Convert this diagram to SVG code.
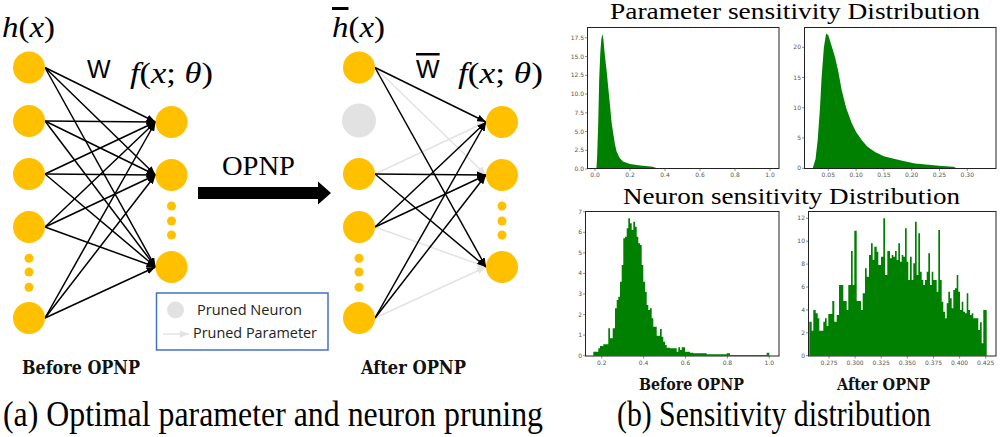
<svg xmlns="http://www.w3.org/2000/svg" width="1000" height="437" viewBox="0 0 1000 437">
<style>
.node{fill:#FFC000}
.pruned{fill:#E2E2E2}
.dot{fill:#FFC000}
.w{stroke:#000;stroke-width:1.5;fill:none;marker-end:url(#ah)}
.g{stroke:#E3E3E3;stroke-width:1.5;fill:none;marker-end:url(#ahg)}
.math{font-family:"Liberation Serif","Times New Roman",serif;font-size:30px;fill:#000}
.it{font-style:italic}
.wlab{font-family:"Liberation Sans",Arial,sans-serif;font-size:25px;fill:#000}
.bold{font-family:"DejaVu Serif",serif;font-weight:bold;fill:#111}
.title{font-family:"Liberation Serif","Times New Roman",serif;font-size:24px;fill:#000}
.cap{font-family:"Liberation Serif","Times New Roman",serif;font-size:35px;fill:#000}
.leg{font-family:"Open Sans","Liberation Sans",sans-serif;font-size:14px;fill:#222}
.frame{fill:none;stroke:#222;stroke-width:1}
.hist{fill:#008000}
.tk{font-family:"DejaVu Sans",sans-serif;font-size:6px;fill:#555}
.tl{stroke:#444;stroke-width:0.6}
</style>
<defs>
<marker id="ah" viewBox="0 0 9 7" refX="9" refY="3.5" markerWidth="9" markerHeight="7" markerUnits="userSpaceOnUse" orient="auto"><path d="M0,0 L9,3.5 L0,7 z" fill="#000"/></marker>
<marker id="ahg" viewBox="0 0 9 7" refX="9" refY="3.5" markerWidth="9" markerHeight="7" markerUnits="userSpaceOnUse" orient="auto"><path d="M0,0 L9,3.5 L0,7 z" fill="#E3E3E3"/></marker>
</defs>

<!-- ===== Left network ===== -->
<text class="math" x="2" y="37" textLength="53" lengthAdjust="spacingAndGlyphs"><tspan class="it">h</tspan>(<tspan class="it">x</tspan>)</text>
<text class="wlab" x="87" y="78">W</text>
<text class="math" x="130" y="83" textLength="83" lengthAdjust="spacingAndGlyphs"><tspan class="it">f</tspan>(<tspan class="it">x</tspan>; <tspan class="it">θ</tspan>)</text>

<g id="connectors-left">
<line class="w" x1="45" y1="67.5" x2="155.5" y2="122"/>
<line class="w" x1="45" y1="67.5" x2="155.5" y2="175"/>
<line class="w" x1="45" y1="67.5" x2="155.5" y2="267"/>
<line class="w" x1="45" y1="121" x2="155.5" y2="122"/>
<line class="w" x1="45" y1="121" x2="155.5" y2="175"/>
<line class="w" x1="45" y1="121" x2="155.5" y2="267"/>
<line class="w" x1="45" y1="174" x2="155.5" y2="122"/>
<line class="w" x1="45" y1="174" x2="155.5" y2="175"/>
<line class="w" x1="45" y1="174" x2="155.5" y2="267"/>
<line class="w" x1="45" y1="227" x2="155.5" y2="122"/>
<line class="w" x1="45" y1="227" x2="155.5" y2="175"/>
<line class="w" x1="45" y1="227" x2="155.5" y2="267"/>
<line class="w" x1="45" y1="318" x2="155.5" y2="122"/>
<line class="w" x1="45" y1="318" x2="155.5" y2="175"/>
<line class="w" x1="45" y1="318" x2="155.5" y2="267"/>
</g>

<g id="L-in1"><circle class="node" cx="29" cy="67.5" r="16"/></g>
<g id="L-in2"><circle class="node" cx="29" cy="121" r="16"/></g>
<g id="L-in3"><circle class="node" cx="29" cy="174" r="16"/></g>
<g id="L-in4"><circle class="node" cx="29" cy="227" r="16"/></g>
<g id="L-dots"><circle class="dot" cx="29" cy="258.3" r="4.5"/><circle class="dot" cx="29" cy="272" r="4.5"/><circle class="dot" cx="29" cy="287.3" r="4.5"/></g>
<g id="L-in5"><circle class="node" cx="29" cy="318" r="16"/></g>
<g id="L-out1"><circle class="node" cx="171.5" cy="122" r="16"/></g>
<g id="L-out2"><circle class="node" cx="171.5" cy="175" r="16"/></g>
<g id="L-outdots"><circle class="dot" cx="171.5" cy="206" r="4.5"/><circle class="dot" cx="171.5" cy="221" r="4.5"/><circle class="dot" cx="171.5" cy="235" r="4.5"/></g>
<g id="L-out3"><circle class="node" cx="171.5" cy="267" r="16"/></g>

<text class="bold" x="22" y="374" font-size="19" textLength="118" lengthAdjust="spacingAndGlyphs">Before OPNP</text>

<!-- OPNP arrow -->
<g id="opnp-arrow">
<text x="222" y="175" font-family="Liberation Serif, Times New Roman, serif" font-size="27" textLength="73" lengthAdjust="spacingAndGlyphs">OPNP</text>
<polygon points="198,187 318,187 318,181.5 331,193 318,204.5 318,199 198,199" fill="#000"/>
</g>

<!-- Legend -->
<g id="legend">
<rect x="156.5" y="293" width="171.5" height="57" fill="#fff" stroke="#4472C4" stroke-width="1.5"/>
<circle cx="175.5" cy="310" r="8.5" fill="#E2E2E2"/>
<text class="leg" x="197" y="315" textLength="105" lengthAdjust="spacingAndGlyphs">Pruned Neuron</text>
<line x1="163" y1="334" x2="189" y2="334" class="g"/>
<text class="leg" x="193" y="338" textLength="124" lengthAdjust="spacingAndGlyphs">Pruned Parameter</text>
</g>

<!-- ===== Right network ===== -->
<text class="math" x="332" y="37" textLength="53" lengthAdjust="spacingAndGlyphs"><tspan class="it" text-decoration="overline">h</tspan>(<tspan class="it">x</tspan>)</text>
<text class="wlab" x="416" y="78" text-decoration="overline">W</text>
<text class="math" x="458" y="83" textLength="85" lengthAdjust="spacingAndGlyphs"><tspan class="it">f</tspan>(<tspan class="it">x</tspan>; <tspan class="it">θ</tspan>)</text>

<g id="connectors-right">
<line class="g" x1="375" y1="67.5" x2="486" y2="175"/>
<line class="g" x1="375" y1="174" x2="486" y2="122"/>
<line class="g" x1="375" y1="227" x2="486" y2="267"/>
<line class="g" x1="375" y1="318" x2="486" y2="267"/>
<line class="w" x1="375" y1="67.5" x2="486" y2="122"/>
<line class="w" x1="375" y1="67.5" x2="486" y2="267"/>
<line class="w" x1="375" y1="174" x2="486" y2="175"/>
<line class="w" x1="375" y1="174" x2="486" y2="267"/>
<line class="w" x1="375" y1="227" x2="486" y2="122"/>
<line class="w" x1="375" y1="227" x2="486" y2="175"/>
<line class="w" x1="375" y1="318" x2="486" y2="122"/>
<line class="w" x1="375" y1="318" x2="486" y2="175"/>
</g>

<g id="R-in1"><circle class="node" cx="359" cy="67.5" r="16"/></g>
<g id="R-in2-pruned"><circle class="pruned" cx="359" cy="120.5" r="17"/></g>
<g id="R-in3"><circle class="node" cx="359" cy="174" r="16"/></g>
<g id="R-in4"><circle class="node" cx="359" cy="227" r="16"/></g>
<g id="R-dots"><circle class="dot" cx="359" cy="258.3" r="4.5"/><circle class="dot" cx="359" cy="272" r="4.5"/><circle class="dot" cx="359" cy="287.3" r="4.5"/></g>
<g id="R-in5"><circle class="node" cx="359" cy="318" r="16"/></g>
<g id="R-out1"><circle class="node" cx="502" cy="122" r="16"/></g>
<g id="R-out2"><circle class="node" cx="502" cy="175" r="16"/></g>
<g id="R-outdots"><circle class="dot" cx="502" cy="206" r="4.5"/><circle class="dot" cx="502" cy="221" r="4.5"/><circle class="dot" cx="502" cy="235" r="4.5"/></g>
<g id="R-out3"><circle class="node" cx="502" cy="267" r="16"/></g>

<text class="bold" x="361" y="374" font-size="19" textLength="105" lengthAdjust="spacingAndGlyphs">After OPNP</text>

<!-- ===== Histograms ===== -->
<text class="title" x="610" y="19" textLength="370" lengthAdjust="spacingAndGlyphs">Parameter sensitivity Distribution</text>
<text class="title" x="623" y="204" textLength="337" lengthAdjust="spacingAndGlyphs">Neuron sensitivity Distribution</text>

<!-- top-left -->
<g id="hist-param-before">
<path class="hist" d="M596.4 169 L597.1 157.8 L598.2 124 L599.2 79 L600.3 52.8 L601.3 39.3 L602.4 34 L603.4 39.3 L604.6 52.8 L606.7 71.5 L608.5 90.3 L610 105.3 L611.6 122.5 L613.4 134.5 L615.1 145 L616.7 151.8 L619.5 157.8 L623 161.5 L630 164.1 L640.5 165.6 L652.8 166.8 L656.3 167.9 L658 169 Z"/>
<rect class="frame" x="587.5" y="27.5" width="191.5" height="141"/>
<g class="tl">
<line x1="585" y1="169" x2="587.5" y2="169"/><line x1="585" y1="150.3" x2="587.5" y2="150.3"/><line x1="585" y1="131.5" x2="587.5" y2="131.5"/><line x1="585" y1="112.8" x2="587.5" y2="112.8"/><line x1="585" y1="94" x2="587.5" y2="94"/><line x1="585" y1="75.3" x2="587.5" y2="75.3"/><line x1="585" y1="56.5" x2="587.5" y2="56.5"/><line x1="585" y1="37.8" x2="587.5" y2="37.8"/>
<line x1="595" y1="168.5" x2="595" y2="171"/><line x1="630" y1="168.5" x2="630" y2="171"/><line x1="665" y1="168.5" x2="665" y2="171"/><line x1="700" y1="168.5" x2="700" y2="171"/><line x1="735" y1="168.5" x2="735" y2="171"/><line x1="770" y1="168.5" x2="770" y2="171"/>
</g>
<g class="tk" text-anchor="end">
<text x="584" y="171">0.0</text><text x="584" y="152.3">2.5</text><text x="584" y="133.5">5.0</text><text x="584" y="114.8">7.5</text><text x="584" y="96">10.0</text><text x="584" y="77.3">12.5</text><text x="584" y="58.5">15.0</text><text x="584" y="39.8">17.5</text>
</g>
<g class="tk" text-anchor="middle">
<text x="595" y="177">0.0</text><text x="630" y="177">0.2</text><text x="665" y="177">0.4</text><text x="700" y="177">0.6</text><text x="735" y="177">0.8</text><text x="770" y="177">1.0</text>
</g>
</g>

<!-- top-right -->
<g id="hist-param-after">
<path class="hist" d="M812.7 168.3 L815.5 159.2 L817.7 139.9 L820 107.8 L821.6 77.5 L823.9 47.3 L826.1 33.4 L828.3 35.2 L831.1 44.3 L835 57 L838.3 71.5 L841.6 89.7 L846.1 107.8 L851.7 122.9 L856.1 132 L861.7 139.9 L867.2 146.5 L875 152 L883.9 156.2 L891.7 158.3 L903.4 161 L915 163.5 L928.4 164.7 L941.7 165.9 L953.4 166.8 L956.7 168.3 Z"/>
<rect class="frame" x="804.5" y="27.5" width="191.5" height="141"/>
<g class="tl">
<line x1="802" y1="168.3" x2="804.5" y2="168.3"/><line x1="802" y1="138" x2="804.5" y2="138"/><line x1="802" y1="107.8" x2="804.5" y2="107.8"/><line x1="802" y1="77.5" x2="804.5" y2="77.5"/><line x1="802" y1="47.3" x2="804.5" y2="47.3"/>
<line x1="828.3" y1="168.5" x2="828.3" y2="171"/><line x1="856.1" y1="168.5" x2="856.1" y2="171"/><line x1="883.9" y1="168.5" x2="883.9" y2="171"/><line x1="911.7" y1="168.5" x2="911.7" y2="171"/><line x1="939.5" y1="168.5" x2="939.5" y2="171"/><line x1="967.3" y1="168.5" x2="967.3" y2="171"/>
</g>
<g class="tk" text-anchor="end">
<text x="801" y="170.3">0</text><text x="801" y="140">5</text><text x="801" y="109.8">10</text><text x="801" y="79.5">15</text><text x="801" y="49.3">20</text>
</g>
<g class="tk" text-anchor="middle">
<text x="828.3" y="177">0.05</text><text x="856.1" y="177">0.10</text><text x="883.9" y="177">0.15</text><text x="911.7" y="177">0.20</text><text x="939.5" y="177">0.25</text><text x="967.3" y="177">0.30</text>
</g>
</g>

<!-- bottom-left -->
<g id="hist-neuron-before">
<path class="hist" d="M593.3 355.7 V351.7 H598.3 V348.3 H600 V346 H603.3 V344.3 H608.3 V328.3 H610 V338.3 H612.7 V328.3 H615 V308.3 H616.7 V300 H618.3 V296.7 H620 V281.7 H621.7 V265 H623.3 V238.3 H625 V236.7 H626.7 V228.3 H628.3 V218.3 H630 V223.3 H631.7 V230 H633.3 V221.7 H635 V226.7 H636.7 V236.7 H638.3 V243.3 H640 V245 H641.7 V265 H643.3 V281.7 H645 V291.7 H646.7 V305 H648.3 V310 H650 V308.3 H651.7 V318.3 H653.3 V326.7 H656.7 V335.7 H660 V329 H661.7 V336.7 H663.3 V341.7 H665 V345 H666.7 V347.7 H670 V348.3 H676.7 V351.7 H678.3 V347.3 H680 V350 H681.7 V347.3 H685 V351.7 H690 V352.7 H693.3 V353.3 H706.7 V354.3 H726.7 V353.3 H730 V355 H766.7 V352.7 H769.3 V355.7 Z"/>
<rect class="frame" x="585.5" y="211.5" width="193.5" height="144.5"/>
<g class="tl">
<line x1="583" y1="355.7" x2="585.5" y2="355.7"/><line x1="583" y1="335.1" x2="585.5" y2="335.1"/><line x1="583" y1="314.6" x2="585.5" y2="314.6"/><line x1="583" y1="294" x2="585.5" y2="294"/><line x1="583" y1="273.4" x2="585.5" y2="273.4"/><line x1="583" y1="252.9" x2="585.5" y2="252.9"/><line x1="583" y1="232.3" x2="585.5" y2="232.3"/><line x1="583" y1="211.7" x2="585.5" y2="211.7"/>
<line x1="601.7" y1="356" x2="601.7" y2="358.5"/><line x1="643.6" y1="356" x2="643.6" y2="358.5"/><line x1="685.5" y1="356" x2="685.5" y2="358.5"/><line x1="727.4" y1="356" x2="727.4" y2="358.5"/><line x1="769.3" y1="356" x2="769.3" y2="358.5"/>
</g>
<g class="tk" text-anchor="end">
<text x="582" y="357.7">0</text><text x="582" y="337.1">1</text><text x="582" y="316.6">2</text><text x="582" y="296">3</text><text x="582" y="275.4">4</text><text x="582" y="254.9">5</text><text x="582" y="234.3">6</text><text x="582" y="213.7">7</text>
</g>
<g class="tk" text-anchor="middle">
<text x="601.7" y="364.5">0.2</text><text x="643.6" y="364.5">0.4</text><text x="685.5" y="364.5">0.6</text><text x="727.4" y="364.5">0.8</text><text x="769.3" y="364.5">1.0</text>
</g>
</g>

<!-- bottom-right -->
<g id="hist-neuron-after">
<path class="hist" d="M809.3 355.7 V321.7 H811.7 V330.7 H813.3 V310 H815.7 V313.3 H817.7 V318.3 H819.3 V330.7 H823.3 V321.7 H825 V318.3 H826.7 V326 H828.3 V314 H832.3 V301 H834.3 V321.7 H836.7 V315 H839 V285 H843.3 V301 H846.7 V310 H848.3 V285 H851 V251 H852.7 V285 H854.3 V230.7 H856.7 V301 H861 V310 H862.7 V293.3 H865 V268.3 H866.7 V276.7 H869 V255 H871 V243.3 H872.7 V260 H874.3 V246.7 H876.7 V251.7 H878.3 V265 H881 V256.7 H883.3 V218.3 H885 V275 H887.3 V251 H890 V258.3 H891.7 V255 H893.3 V256.7 H895 V251 H896.7 V260 H898.3 V243.3 H900 V261.7 H901.7 V255 H903.3 V256.7 H905 V228.3 H906.7 V261.7 H908.3 V280 H910 V256.7 H911.7 V280 H913.3 V263.3 H915 V221.7 H916.7 V275 H918.3 V233.3 H920 V271.7 H921.7 V280 H923.3 V285 H925 V280 H926.7 V271.7 H928.3 V253.3 H930 V285 H931.7 V271.7 H933.3 V280 H936.7 V291.7 H938.3 V230 H940 V280 H941.7 V301.7 H943.3 V311.7 H945 V318.3 H946.7 V303.3 H948.3 V291.7 H950 V298.3 H951.7 V308.3 H953.3 V290 H955 V288.3 H956.7 V275 H958.3 V291.7 H960 V310 H961.7 V301.7 H963.3 V311.7 H965 V313.3 H966.7 V293.3 H968.3 V310 H970 V315 H971.7 V313.3 H973.3 V318.3 H978.3 V330 H980 V322.3 H981.7 V343.3 H983.3 V310 H986.7 V355.7 Z"/>
<rect class="frame" x="808.5" y="211.5" width="187.5" height="144.5"/>
<g class="tl">
<line x1="806" y1="355.7" x2="808.5" y2="355.7"/><line x1="806" y1="332.8" x2="808.5" y2="332.8"/><line x1="806" y1="309.9" x2="808.5" y2="309.9"/><line x1="806" y1="287" x2="808.5" y2="287"/><line x1="806" y1="264.1" x2="808.5" y2="264.1"/><line x1="806" y1="241.2" x2="808.5" y2="241.2"/><line x1="806" y1="218.3" x2="808.5" y2="218.3"/>
<line x1="829" y1="356" x2="829" y2="358.5"/><line x1="855.1" y1="356" x2="855.1" y2="358.5"/><line x1="881.2" y1="356" x2="881.2" y2="358.5"/><line x1="907.3" y1="356" x2="907.3" y2="358.5"/><line x1="933.5" y1="356" x2="933.5" y2="358.5"/><line x1="959.6" y1="356" x2="959.6" y2="358.5"/><line x1="985.7" y1="356" x2="985.7" y2="358.5"/>
</g>
<g class="tk" text-anchor="end">
<text x="805" y="357.7">0</text><text x="805" y="334.8">2</text><text x="805" y="311.9">4</text><text x="805" y="289">6</text><text x="805" y="266.1">8</text><text x="805" y="243.2">10</text><text x="805" y="220.3">12</text>
</g>
<g class="tk" text-anchor="middle">
<text x="829" y="364.5">0.275</text><text x="855.1" y="364.5">0.300</text><text x="881.2" y="364.5">0.325</text><text x="907.3" y="364.5">0.350</text><text x="933.5" y="364.5">0.375</text><text x="959.6" y="364.5">0.400</text><text x="985.7" y="364.5">0.425</text>
</g>
</g>

<text class="bold" x="639" y="390" font-size="17" textLength="105" lengthAdjust="spacingAndGlyphs">Before OPNP</text>
<text class="bold" x="837" y="390" font-size="17" textLength="93" lengthAdjust="spacingAndGlyphs">After OPNP</text>

<!-- Captions -->
<text class="cap" x="3" y="426" textLength="540" lengthAdjust="spacingAndGlyphs">(a) Optimal parameter and neuron pruning</text>
<text class="cap" x="617" y="426" textLength="314" lengthAdjust="spacingAndGlyphs">(b) Sensitivity distribution</text>
</svg>
